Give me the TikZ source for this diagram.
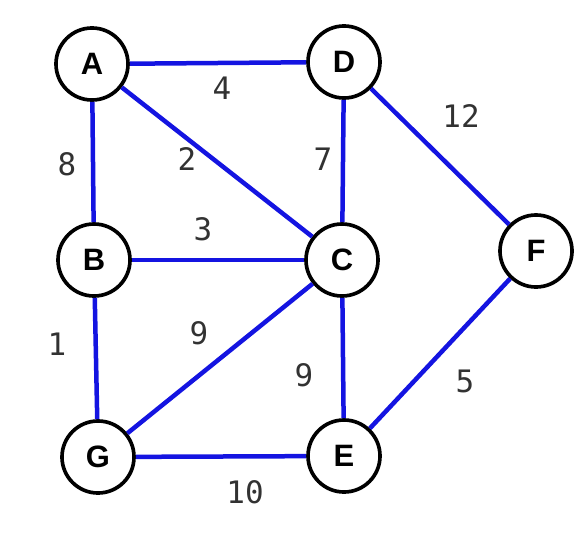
\documentclass[tikz,border=0pt]{standalone}
\usepackage{fontspec}
\setmainfont{Liberation Sans}
\newfontfamily\weightfont{DejaVu Sans Mono}
\usepackage{xcolor}
\usetikzlibrary{positioning}
\definecolor{edgeblue}{RGB}{20,20,225}
\definecolor{weightgray}{RGB}{50,50,50}
\tikzset{
  vertex/.style={
    draw=black,
    circle,
    line width=2.6pt,
    fill=white,
    minimum size=1.8cm,
    inner sep=0pt,
    font=\fontsize{22}{24}\selectfont\bfseries
  },
  weight/.style={
    text=weightgray,
    inner sep=0pt,
    font=\weightfont\fontsize{22}{24}\selectfont
  },
  link/.style={draw=edgeblue, line width=3.2pt}
}

\begin{document}
\begin{tikzpicture}[x=0.025cm, y=-0.025cm]
\useasboundingbox (0,0) rectangle (582,538);
% vertices
\node[vertex] (A) at (92,64) {A};
\node[vertex] (D) at (344,62) {D};
\node[vertex] (B) at (94,260) {B};
\node[vertex] (C) at (342,260) {C};
\node[vertex] (F) at (536,251) {F};
\node[vertex] (G) at (98,457) {G};
\node[vertex] (E) at (344,456) {E};

% edges
\draw[link] (A) -- (D);
\draw[link] (A) -- (B);
\draw[link] (A) -- (C);
\draw[link] (D) -- (C);
\draw[link] (D) -- (F);
\draw[link] (B) -- (C);
\draw[link] (B) -- (G);
\draw[link] (G) -- (C);
\draw[link] (C) -- (E);
\draw[link] (G) -- (E);
\draw[link] (E) -- (F);

% weights
\node[weight] (wAD) at (222,88) {4};
\node[weight] (wDF) at (461,116) {12};
\node[weight] (wAB) at (67,164) {8};
\node[weight] (wAC) at (187,159) {2};
\node[weight] (wDC) at (323,159) {7};
\node[weight] (wBC) at (203,229) {3};
\node[weight] (wBG) at (57,344) {1};
\node[weight] (wGC) at (199,333) {9};
\node[weight] (wCE) at (304,375) {9};
\node[weight] (wEF) at (465,381) {5};
\node[weight] (wGE) at (245,492) {10};
\end{tikzpicture}
\end{document}
